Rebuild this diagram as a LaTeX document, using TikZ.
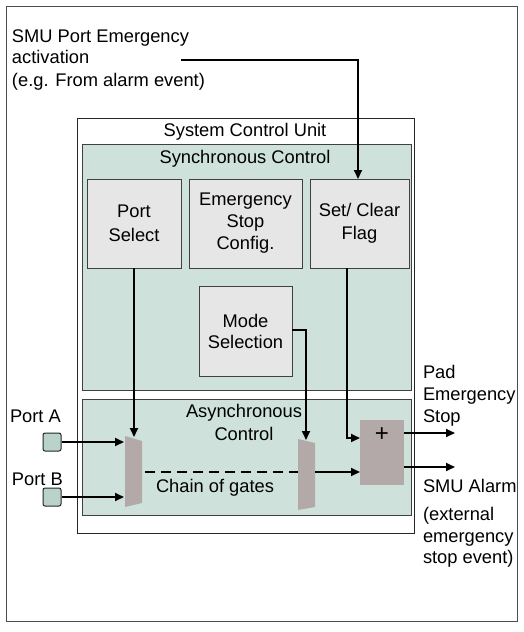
\documentclass[tikz,border=0pt]{standalone}
\usepackage{fontspec}
\setmainfont{Liberation Sans}
\usetikzlibrary{arrows.meta}
\definecolor{teal0}{HTML}{CEE2DB}
\definecolor{boxgray}{HTML}{E6E6E6}
\definecolor{gatec}{HTML}{B3A9A9}
\definecolor{portc}{HTML}{B9D3CB}
\begin{document}
\begin{tikzpicture}[x=1pt,y=-1pt,
  txt/.style={font=\fontsize{18.3}{23}\selectfont, inner sep=0pt, outer sep=0pt},
  region/.style={draw=black!75, line width=0.8pt, fill=teal0, anchor=north west, inner sep=0pt},
  fbox/.style={draw=black!75, line width=0.8pt, fill=boxgray, anchor=north west, inner sep=0pt, align=center, txt},
  conn/.style={line width=1.8pt, -{Triangle[length=9pt,width=8pt]}},
  gate/.style={fill=gatec, draw=none},
  portsq/.style={draw=black!85, line width=1pt, fill=portc, rounded corners=2pt, minimum size=18pt, inner sep=0pt}
]
\useasboundingbox (0,0) rectangle (524,632);
% outer frame
\draw[black!70, line width=0.8pt] (6,6) rectangle (517,621);
% system control unit
\node[draw=black!85, line width=0.8pt, fill=white, anchor=north west, minimum width=337pt, minimum height=415pt, inner sep=0pt] (scu) at (77,118) {};
\node[txt, anchor=base] (scut) at (245,136) {System Control Unit};
% synchronous control
\node[region, minimum width=329pt, minimum height=246pt] (sync) at (82,144) {};
\node[txt, anchor=base] (synct) at (245,163) {Synchronous Control};
% asynchronous control
\node[region, minimum width=329pt, minimum height=116pt] (async) at (82,399) {};
\node[txt, anchor=base] (asynct1) at (244,417) {Asynchronous};
\node[txt, anchor=base] (asynct2) at (244,440) {Control};
% function boxes
\node[fbox, minimum width=94pt, minimum height=89pt, font=\fontsize{18.3}{24}\selectfont] (ps) at (87,179) {Port\\Select};
\node[fbox, minimum width=113pt, minimum height=89pt, font=\fontsize{18.3}{22}\selectfont] (esc) at (189,179) {Emergency\\Stop\\Config.};
\node[fbox, minimum width=99pt, minimum height=89pt] (scf) at (310,179) {Set/ Clear\\Flag};
\node[fbox, minimum width=93pt, minimum height=90pt, font=\fontsize{18.3}{21}\selectfont] (ms) at (199,286) {Mode\\Selection};
% gates
\fill[gatec] (125,436) -- (142,441) -- (142,503) -- (125,507) -- cycle;
\fill[gatec] (298,439) -- (315,443) -- (315,507) -- (298,510) -- cycle;
\coordinate (g1top) at (134,437);
\coordinate (g1inA) at (124,442);
\coordinate (g1inB) at (124,497);
\coordinate (g1out) at (145,472);
\coordinate (g2in) at (298,472);
\coordinate (g2top) at (306,440);
\coordinate (g2out) at (315,472);
% plus box
\node[fill=gatec, anchor=north west, minimum width=44pt, minimum height=65pt, inner sep=0pt] (plus) at (360,420) {};
\node[inner sep=0pt, font=\fontsize{24}{24}\selectfont, anchor=center] (plust) at (382,435) {+};
% ports
\node[portsq] (pa) at (52,442) {};
\node[portsq] (pb) at (52,497) {};
\node[txt, anchor=base west] (pat) at (10,422) {Port A};
\node[txt, anchor=base west] (pbt) at (12,485) {Port B};
% top text
\node[txt, anchor=base west] (smu1) at (12,42) {SMU Port Emergency};
\node[txt, anchor=base west] (smu2) at (12,63) {activation};
\node[txt, anchor=base west] (smu3) at (12,86) {(e.g. From alarm event)};
\coordinate (smustart) at (181,60);
% right text
\node[txt, anchor=base west] (pad1) at (423,378) {Pad};
\node[txt, anchor=base west] (pad2) at (423,400) {Emergency};
\node[txt, anchor=base west] (pad3) at (423,422) {Stop};
\node[txt, anchor=base west] (al1) at (423,492) {SMU Alarm};
\node[txt, anchor=base west] (al2) at (423,520) {(external};
\node[txt, anchor=base west] (al3) at (423,542) {emergency};
\node[txt, anchor=base west] (al4) at (423,563) {stop event)};
\node[txt, anchor=base west] (chain) at (156,492) {Chain of gates};
\coordinate (o1) at (455,433);
\coordinate (o2) at (455,467);
% connectors
\draw[conn] (smustart) -| (scf.north -| 358,0);
\draw[conn] (pa.east) -- (g1inA);
\draw[conn] (pb.east) -- (g1inB);
\draw[conn] (ps.south -| g1top) -- (g1top);
\draw[line width=1.8pt, dash pattern=on 10pt off 6pt] (g1out) -- (g2in);
\draw[conn] (ms.east |- 0,330) -| (g2top);
\draw[conn] (g2out) -- (g2out -| plus.west);
\draw[conn] (scf.south -| 347,0) |- (plus.west |- 0,438);
\draw[conn] (plus.east |- o1) -- (o1);
\draw[conn] (plus.east |- o2) -- (o2);
\end{tikzpicture}
\end{document}
